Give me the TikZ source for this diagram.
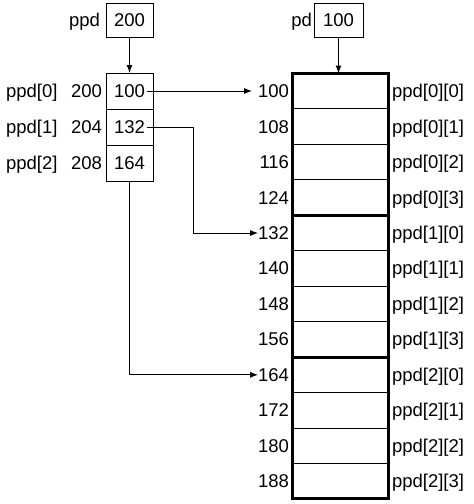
\documentclass[tikz,border=0pt]{standalone}
\usepackage{fontspec}
\setmainfont{Liberation Sans}
\usetikzlibrary{arrows.meta,positioning}
\begin{document}
\begin{tikzpicture}[x=1pt,y=-1pt,
  every node/.style={font=\fontsize{18.5}{22}\selectfont, inner sep=0pt, outer sep=0pt, text height=13pt, text depth=0pt},
  cell/.style={draw, line width=1pt, minimum width=47pt, minimum height=36pt},
  topbox/.style={draw, line width=1pt, minimum height=34pt},
  mem/.style={draw, line width=1pt, minimum width=96pt, minimum height=35.45pt},
  thickline/.style={line width=3pt},
  ptr/.style={line width=1pt, -{Latex[length=8pt,width=6pt]}}
]
\useasboundingbox (0,0) rectangle (474,504);

% top pointer boxes
\node[topbox, minimum width=47pt] (pp) at (129.5,20) {200};
\node[anchor=east, left=6pt of pp] (ppl) {ppd};
\node[topbox, minimum width=49pt] (pd) at (338.5,20) {100};
\node[anchor=east, left=2pt of pd] (pdl) {pd};

% left array of pointers
\foreach \i/\v/\a in {0/100/200, 1/132/204, 2/164/208} {
  \node[cell] (p\i) at (129.5, 91+36*\i) {\v};
  \node[anchor=east, left=4pt of p\i] (pa\i) {\a};
  \node[anchor=west] (pn\i) at (6, 91+36*\i) {ppd[\i]};
}

% big memory array
\foreach \i/\a/\r/\c in {0/100/0/0, 1/108/0/1, 2/116/0/2, 3/124/0/3,
                         4/132/1/0, 5/140/1/1, 6/148/1/2, 7/156/1/3,
                         8/164/2/0, 9/172/2/1, 10/180/2/2, 11/188/2/3} {
  \node[mem] (m\i) at (340, {73.5+35.45*(\i+0.5)}) {};
  \node[anchor=east, left=3pt of m\i] (a\i) {\a};
  \node[anchor=west, right=4pt of m\i] (r\i) {ppd[\r][\c]};
}
\draw[thickline] (m0.north west) rectangle (m11.south east);
\draw[thickline] (m3.south west) -- (m3.south east);
\draw[thickline] (m7.south west) -- (m7.south east);

% pointers
\draw[ptr] (pp.south) -- (p0.north);
\draw[ptr] (pd.south) -- (pd.south |- m0.north);
\draw[ptr] ([xshift=-6pt]p0.east) -- ([xshift=-6pt]p0.east -| a0.west);
\draw[ptr] ([xshift=-6pt]p1.east) -- ++(46,0) |- (a4.west);
\draw[ptr] (p2.south) |- (a8.west);
\end{tikzpicture}
\end{document}
